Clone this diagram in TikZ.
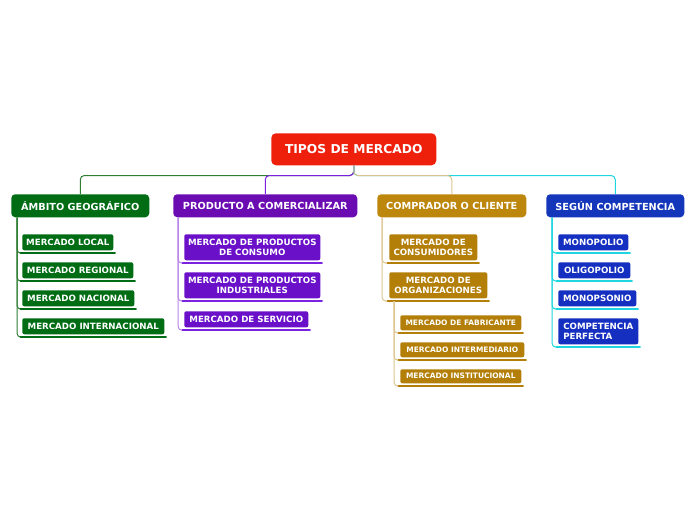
\documentclass[tikz,border=0pt]{standalone}
\usepackage{fontspec}
\setmainfont{DejaVu Sans}
\usepackage{tikz}

\definecolor{rootred}{HTML}{EE1F0B}
\definecolor{geogreen}{HTML}{006D14}
\definecolor{geoline}{HTML}{2E7D32}
\definecolor{prodpurple}{HTML}{6B0CB3}
\definecolor{prodsub}{HTML}{6A10C8}
\definecolor{prodbar}{HTML}{7A22E0}
\definecolor{prodline}{HTML}{B784E8}
\definecolor{compgold}{HTML}{BC870C}
\definecolor{compsub}{HTML}{B37F09}
\definecolor{compline}{HTML}{DCC48E}
\definecolor{segblue}{HTML}{1336BA}
\definecolor{segsub}{HTML}{1530C0}
\definecolor{segcyan}{HTML}{1FD5DF}

\begin{document}
\begin{tikzpicture}[x=0.75pt,y=-0.75pt,
  every node/.style={text=white,inner sep=0pt,align=center,anchor=north west},
  wh/.style args={#1x#2}{minimum width=#1*0.75pt,minimum height=#2*0.75pt},
  root/.style={fill=rootred,rounded corners=3.5pt,font=\bfseries\fontsize{9.2}{11}\selectfont},
  topic/.style={fill=#1,rounded corners=3pt,font=\bfseries\fontsize{7.3}{9}\selectfont},
  sub/.style={fill=#1,rounded corners=1.5pt,font=\bfseries\fontsize{6.5}{7.6}\selectfont},
  subsub/.style={fill=#1,rounded corners=1.5pt,font=\bfseries\fontsize{5.6}{6.8}\selectfont},
  link/.style={draw=#1,line width=0.75pt,rounded corners=3pt},
  bar/.style={draw=#1,line width=1.8pt,line cap=round}]
\useasboundingbox (0,0) rectangle (696,520);

% Main topic
\node [root,wh=165x32] (tipos) at (271,133) {TIPOS DE MERCADO};

% Topics
\node [topic=geogreen,wh=138x23] (ambito) at (11,194) {ÁMBITO GEOGRÁFICO};
\node [topic=prodpurple,wh=184x23] (producto) at (173,194) {PRODUCTO A COMERCIALIZAR};
\node [topic=compgold,wh=149x23] (comprador) at (377,194) {COMPRADOR O CLIENTE};
\node [topic=segblue,wh=138x23] (segun) at (546,194) {SEGÚN COMPETENCIA};

% The links:
\draw [link=geoline] (tipos.south) -- ++(0,10) -| (ambito.north);
\draw [link=prodbar] (tipos.south) -- ++(0,10) -| (producto.north);
\draw [link=segcyan] (tipos.south) -- ++(0,10) -| (segun.north);
\draw [link=compline] (tipos.south) -- ++(0,10) -| (comprador.north);

% Ambito geografico
\node [sub=geogreen,wh=91x16] (local) at (22,234) {MERCADO LOCAL};
\node [sub=geogreen,wh=111x16] (regional) at (22,262) {MERCADO REGIONAL};
\node [sub=geogreen,wh=112x16] (nacional) at (22,290) {MERCADO NACIONAL};
\node [sub=geogreen,wh=142x16] (internac) at (22,318) {MERCADO INTERNACIONAL};
\draw [link=geoline] ([xshift=4.5pt]ambito.south west) |- ([yshift=-2pt]local.south west);
\draw [link=geoline] ([xshift=4.5pt]ambito.south west) |- ([yshift=-2pt]regional.south west);
\draw [link=geoline] ([xshift=4.5pt]ambito.south west) |- ([yshift=-2pt]nacional.south west);
\draw [link=geoline] ([xshift=4.5pt]ambito.south west) |- ([yshift=-2pt]internac.south west);
\draw [bar=geogreen] ([xshift=-1pt,yshift=-2pt]local.south west) -- ([xshift=1pt,yshift=-2pt]local.south east);
\draw [bar=geogreen] ([xshift=-1pt,yshift=-2pt]regional.south west) -- ([xshift=1pt,yshift=-2pt]regional.south east);
\draw [bar=geogreen] ([xshift=-1pt,yshift=-2pt]nacional.south west) -- ([xshift=1pt,yshift=-2pt]nacional.south east);
\draw [bar=geogreen] ([xshift=-1pt,yshift=-2pt]internac.south west) -- ([xshift=1pt,yshift=-2pt]internac.south east);

% Producto a comercializar
\node [sub=prodsub,wh=136x26] (consumo) at (184,234) {MERCADO DE PRODUCTOS\\DE CONSUMO};
\node [sub=prodsub,wh=136x26] (industria) at (184,272) {MERCADO DE PRODUCTOS\\INDUSTRIALES};
\node [sub=prodsub,wh=124x16] (servicio) at (184,311) {MERCADO DE SERVICIO};
\draw [link=prodline] ([xshift=3.75pt]producto.south west) |- ([yshift=-2pt]consumo.south west);
\draw [link=prodline] ([xshift=3.75pt]producto.south west) |- ([yshift=-2pt]industria.south west);
\draw [link=prodline] ([xshift=3.75pt]producto.south west) |- ([yshift=-2pt]servicio.south west);
\draw [bar=prodbar] ([xshift=-1pt,yshift=-2pt]consumo.south west) -- ([xshift=1pt,yshift=-2pt]consumo.south east);
\draw [bar=prodbar] ([xshift=-1pt,yshift=-2pt]industria.south west) -- ([xshift=1pt,yshift=-2pt]industria.south east);
\draw [bar=prodbar] ([xshift=-1pt,yshift=-2pt]servicio.south west) -- ([xshift=1pt,yshift=-2pt]servicio.south east);

% Comprador o cliente
\node [sub=compsub,wh=88x26] (consumid) at (389,234) {MERCADO DE\\CONSUMIDORES};
\node [sub=compsub,wh=98x26] (organiz) at (389,272) {MERCADO DE\\ORGANIZACIONES};
\draw [link=compline] ([xshift=3.75pt]comprador.south west) |- ([yshift=-2pt]consumid.south west);
\draw [link=compline] ([xshift=3.75pt]comprador.south west) |- ([yshift=-2pt]organiz.south west);
\draw [bar=compsub] ([xshift=-1pt,yshift=-2pt]consumid.south west) -- ([xshift=1pt,yshift=-2pt]consumid.south east);
\draw [bar=compsub] ([xshift=-1pt,yshift=-2pt]organiz.south west) -- ([xshift=1pt,yshift=-2pt]organiz.south east);

% Organizaciones
\node [subsub=compsub,wh=121x15] (fabric) at (400,315) {MERCADO DE FABRICANTE};
\node [subsub=compsub,wh=124x15] (intermed) at (400,342) {MERCADO INTERMEDIARIO};
\node [subsub=compsub,wh=121x14] (instit) at (400,369) {MERCADO INSTITUCIONAL};
\draw [link=compline] ([xshift=3.75pt,yshift=-2pt]organiz.south west) |- ([yshift=-2pt]fabric.south west);
\draw [link=compline] ([xshift=3.75pt,yshift=-2pt]organiz.south west) |- ([yshift=-2pt]intermed.south west);
\draw [link=compline] ([xshift=3.75pt,yshift=-2pt]organiz.south west) |- ([yshift=-2pt]instit.south west);
\draw [bar=compsub] ([xshift=-1pt,yshift=-2pt]fabric.south west) -- ([xshift=1pt,yshift=-2pt]fabric.south east);
\draw [bar=compsub] ([xshift=-1pt,yshift=-2pt]intermed.south west) -- ([xshift=1pt,yshift=-2pt]intermed.south east);
\draw [bar=compsub] ([xshift=-1pt,yshift=-2pt]instit.south west) -- ([xshift=1pt,yshift=-2pt]instit.south east);

% Segun competencia
\node [sub=segsub,wh=70x16] (monopol) at (558,234) {MONOPOLIO};
\node [sub=segsub,wh=72x16] (oligop) at (558,262) {OLIGOPOLIO};
\node [sub=segsub,wh=78x16] (monops) at (558,290) {MONOPSONIO};
\node [sub=segsub,wh=80x26,align=left,text width=70*0.75pt,inner xsep=5*0.75pt] (perfecta) at (558,318) {COMPETENCIA\\PERFECTA};
\draw [link=segcyan] ([xshift=4.5pt]segun.south west) |- ([yshift=-2pt]monopol.south west);
\draw [link=segcyan] ([xshift=4.5pt]segun.south west) |- ([yshift=-2pt]oligop.south west);
\draw [link=segcyan] ([xshift=4.5pt]segun.south west) |- ([yshift=-2pt]monops.south west);
\draw [link=segcyan] ([xshift=4.5pt]segun.south west) |- ([yshift=-2pt]perfecta.south west);
\draw [bar=segcyan] ([xshift=-1pt,yshift=-2pt]monopol.south west) -- ([xshift=1pt,yshift=-2pt]monopol.south east);
\draw [bar=segcyan] ([xshift=-1pt,yshift=-2pt]oligop.south west) -- ([xshift=1pt,yshift=-2pt]oligop.south east);
\draw [bar=segcyan] ([xshift=-1pt,yshift=-2pt]monops.south west) -- ([xshift=1pt,yshift=-2pt]monops.south east);
\draw [bar=segcyan] ([xshift=-1pt,yshift=-2pt]perfecta.south west) -- ([xshift=1pt,yshift=-2pt]perfecta.south east);

%\draw [help lines] (0,0) grid (696,520);
\end{tikzpicture}
\end{document}
